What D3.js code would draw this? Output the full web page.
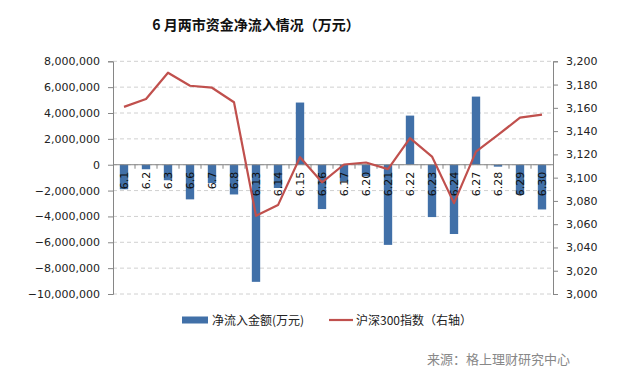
<!DOCTYPE html>
<html><head><meta charset="utf-8">
<script src="https://cdn.jsdelivr.net/npm/d3@7/dist/d3.min.js"></script>
<style>
body{margin:0;background:#fff;}
svg{display:block;}
</style></head>
<body><svg id="c" width="641" height="382"></svg>
<script>
const categories = ["6.1","6.2","6.3","6.6","6.7","6.8","6.13","6.14","6.15","6.16","6.17","6.20","6.21","6.22","6.23","6.24","6.27","6.28","6.29","6.30"];
const netInflow = [-1900000,-350000,-1200000,-2680000,-1420000,-2300000,-9060000,-1800000,4810000,-3430000,-1300000,-900000,-6200000,3800000,-4050000,-5360000,5270000,-150000,-2300000,-3460000];
const hs300 = [3160.8,3167.6,3190.2,3179,3177.3,3164.8,3067.2,3076.4,3117.6,3096,3111.3,3113,3107.3,3133.9,3118.1,3078.1,3122.4,3136.7,3151.6,3154.2];
const leftTicks = [8000000,6000000,4000000,2000000,0,-2000000,-4000000,-6000000,-8000000,-10000000];
const rightTicks = [3200,3180,3160,3140,3120,3100,3080,3060,3040,3020,3000];
const title = "6 月两市资金净流入情况（万元）";
const legendBar = "净流入金额(万元)";
const legendLine = "沪深300指数（右轴）";
const source = "来源：格上理财研究中心";

const svg = d3.select("#c");
const L = 113, R = 553, T = 61.3, B = 294;
const numFont = "'DejaVu Sans', Verdana, sans-serif";
const cjkFont = "'Noto Sans CJK SC', sans-serif";
const axisColor = "#868686";

const x = d3.scaleBand().domain(categories).range([L, R]).paddingInner(0.62).paddingOuter(0.31);
const xb = d3.scaleBand().domain(categories).range([L, R]);
const yL = d3.scaleLinear().domain([-10000000, 8000000]).range([B, T]);
const yR = d3.scaleLinear().domain([3000, 3200]).range([B, T]);

// gridlines
svg.append("g").selectAll("line").data(leftTicks).join("line")
  .attr("x1", L).attr("x2", R)
  .attr("y1", d => yL(d)).attr("y2", d => yL(d))
  .attr("stroke", "#d0d0d0").attr("stroke-dasharray", "4,3").attr("stroke-width", 1);

// bars
svg.append("g").selectAll("rect").data(netInflow).join("rect")
  .attr("x", (d, i) => x(categories[i]))
  .attr("width", x.bandwidth())
  .attr("y", d => yL(Math.max(0, d)))
  .attr("height", d => Math.abs(yL(d) - yL(0)))
  .attr("fill", "#4170A8");

// left axis
const fmt = d3.format(",");
const gl = svg.append("g").attr("transform", `translate(${L},0)`)
  .call(d3.axisLeft(yL).tickValues(leftTicks).tickFormat(d => fmt(d)).tickSize(5).tickPadding(8));
gl.selectAll("text").attr("font-family", numFont).attr("font-size", 11).attr("fill", "#222");
gl.selectAll("line,path").attr("stroke", axisColor);

// right axis
const gr = svg.append("g").attr("transform", `translate(${R},0)`)
  .call(d3.axisRight(yR).tickValues(rightTicks).tickFormat(d => fmt(d)).tickSize(5).tickPadding(8));
gr.selectAll("text").attr("font-family", numFont).attr("font-size", 11).attr("fill", "#222");
gr.selectAll("line,path").attr("stroke", axisColor);

// x axis at zero
const y0 = yL(0);
svg.append("line").attr("x1", L).attr("x2", R).attr("y1", y0).attr("y2", y0).attr("stroke", axisColor);
svg.append("g").selectAll("line").data(categories.slice(1)).join("line")
  .attr("x1", d => xb(d)).attr("x2", d => xb(d))
  .attr("y1", y0).attr("y2", y0 + 4).attr("stroke", axisColor);

// x labels rotated
svg.append("g").selectAll("text").data(categories).join("text")
  .attr("transform", d => `translate(${xb(d) + xb.bandwidth() / 2 + 4},${y0 + 7}) rotate(-90)`)
  .attr("text-anchor", "end")
  .attr("font-family", numFont).attr("font-size", 11).attr("fill", "#111")
  .text(d => d);

// line
const line = d3.line().x((d, i) => xb(categories[i]) + xb.bandwidth() / 2).y(d => yR(d));
svg.append("path").datum(hs300).attr("d", line)
  .attr("fill", "none").attr("stroke", "#C0504D").attr("stroke-width", 2.2).attr("stroke-linejoin", "round");

// title
svg.append("text").attr("x", 256).attr("y", 30).attr("text-anchor", "middle")
  .attr("font-family", cjkFont).attr("font-size", 14).attr("font-weight", "bold").attr("fill", "#111")
  .text(title);

// legend
const ly = 320;
svg.append("rect").attr("x", 182).attr("y", ly - 3.5).attr("width", 26).attr("height", 7).attr("fill", "#4170A8");
svg.append("text").attr("x", 212).attr("y", ly + 4.5).attr("font-family", cjkFont).attr("font-size", 12).attr("fill", "#222").text(legendBar);
svg.append("line").attr("x1", 329).attr("x2", 353).attr("y1", ly).attr("y2", ly).attr("stroke", "#C0504D").attr("stroke-width", 2.2);
svg.append("text").attr("x", 356).attr("y", ly + 4.5).attr("font-family", cjkFont).attr("font-size", 12).attr("fill", "#222").text(legendLine);

// source
svg.append("text").attr("x", 427).attr("y", 364).attr("font-family", cjkFont).attr("font-size", 13).attr("fill", "#888").text(source);
</script>
</body></html>
